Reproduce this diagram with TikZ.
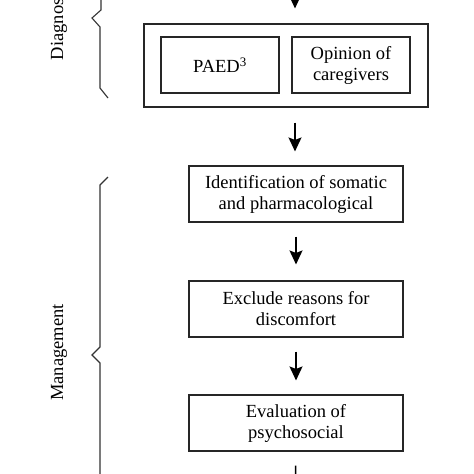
\documentclass[tikz,border=0pt]{standalone}
\usepackage{fontspec}
\setmainfont{Liberation Serif}
\usetikzlibrary{arrows.meta}
\begin{document}
\begin{tikzpicture}[x=1pt,y=-1pt,
  every node/.style={font=\fontsize{18.5}{21}\selectfont, text=black},
  box/.style={draw=black!85, line width=1.1pt, align=center, inner sep=0pt, minimum height=56pt},
  arr/.style={draw=black, line width=1.5pt, -{Stealth[length=14pt,width=13pt,inset=2.5pt]}},
  brace/.style={draw=black!80, line width=1.1pt, line join=miter},
  side/.style={rotate=90, anchor=base}]
\useasboundingbox (0,0) rectangle (474,474);
\node[box, minimum width=284pt, minimum height=83pt] (outer) at (286,65.5) {};
\node[box, minimum width=118pt] (paed) at (220,65) {PAED\textsuperscript{3}};
\node[box, minimum width=118pt] (opin) at (351,65) {Opinion of\\caregivers};
\node[box, minimum width=214pt] (b1) at (296,194) {Identification of somatic\\and pharmacological};
\node[box, minimum width=214pt] (b2) at (296,309) {Exclude reasons for\\discomfort};
\node[box, minimum width=214pt] (b3) at (296,423) {Evaluation of\\psychosocial};
\coordinate (top) at (295,-30);
\coordinate (bot) at (295,500);
\draw[arr, shorten >=15pt] (top) -- (top |- outer.north);
\draw[arr, shorten <=15pt, shorten >=14pt] (top |- outer.south) -- (top |- b1.north);
\draw[arr, shorten <=14pt, shorten >=16pt] (b1.south) -- (b2.north);
\draw[arr, shorten <=14pt, shorten >=14pt] (b2.south) -- (b3.north);
\draw[arr, shorten <=14pt] (b3.south) -- (bot);
\node[side] (diag) at (63,23) {Diagnosis};
\node[side] (mgmt) at (63,352.5) {Management};
\draw[brace] (101,-5) -- (101,10) -- (92,18) -- (100,27) -- (100,88) -- (108,98);
\draw[brace] (108,177) -- (100,185) -- (100,347) -- (92,355) -- (100,363) -- (100,480);
\end{tikzpicture}
\end{document}
